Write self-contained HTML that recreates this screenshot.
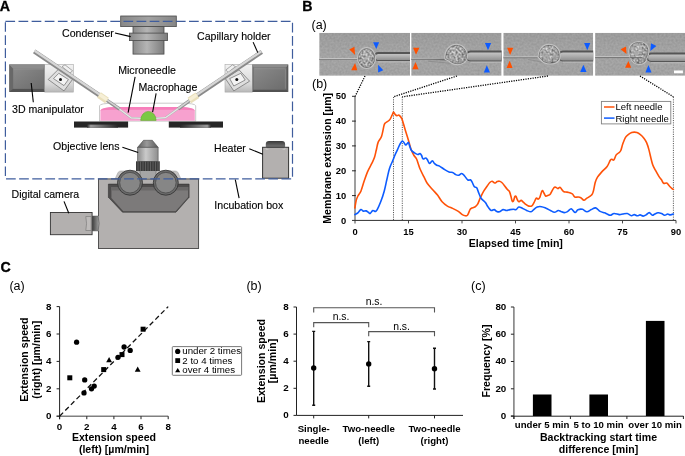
<!DOCTYPE html>
<html><head><meta charset="utf-8"><title>Figure</title>
<style>
html,body{margin:0;padding:0;background:#fff;}
svg{display:block}
text{font-family:"Liberation Sans",sans-serif;fill:#000}
.pl{font-size:14.200px;font-weight:bold;stroke:#000;stroke-width:0.3px}
.sub{font-size:12.500px}
.la{font-size:10.600px;stroke:#000;stroke-width:0.12px}
.tk{font-size:9.800px;font-weight:bold}
.tkb{font-size:9.400px;font-weight:bold}
.ax{font-size:10.600px;font-weight:bold}
.lg{font-size:9.500px}
.lg2{font-size:9.700px}
.ns{font-size:10.400px}
.ct{font-size:9.650px;font-weight:bold}
</style></head><body>
<svg width="685" height="456" viewBox="0 0 685 456">
<defs>
<linearGradient id="gH" x1="0" x2="1" y1="0" y2="0"><stop offset="0" stop-color="#8a8a8a"/><stop offset="0.45" stop-color="#b4b4b4"/><stop offset="1" stop-color="#7c7c7c"/></linearGradient>
<linearGradient id="gD" x1="0" x2="1" y1="0" y2="1"><stop offset="0" stop-color="#8a8a8a"/><stop offset="1" stop-color="#6c6c6c"/></linearGradient>
<linearGradient id="gS" x1="0" x2="1" y1="0" y2="0"><stop offset="0" stop-color="#262626"/><stop offset="0.12" stop-color="#9a9a9a"/><stop offset="1" stop-color="#262626"/></linearGradient>
<linearGradient id="gP" x1="0" x2="0" y1="0" y2="1"><stop offset="0" stop-color="#c4c4c4"/><stop offset="0.55" stop-color="#a8a8a8"/><stop offset="1" stop-color="#8e8e8e"/></linearGradient>
<linearGradient id="gM" x1="0" x2="0" y1="0" y2="1"><stop offset="0" stop-color="#9c9c9c"/><stop offset="0.5" stop-color="#a4a4a4"/><stop offset="1" stop-color="#a2a2a2"/></linearGradient>
<radialGradient id="gC" cx="0.38" cy="0.32" r="0.75"><stop offset="0" stop-color="#bebebe"/><stop offset="0.6" stop-color="#a8a8a8"/><stop offset="1" stop-color="#858585"/></radialGradient>
<filter id="fN" x="0" y="0" width="1" height="1" color-interpolation-filters="sRGB"><feTurbulence type="fractalNoise" baseFrequency="0.5" numOctaves="3" seed="7" result="n"/><feColorMatrix in="n" type="matrix" values="1.5 0 0 0 -0.12  1.5 0 0 0 -0.12  1.5 0 0 0 -0.12  0 0 0 0 1" result="m"/><feComposite in="m" in2="SourceGraphic" operator="in"/></filter>
<linearGradient id="gH2" x1="0" x2="1" y1="0" y2="0"><stop offset="0" stop-color="#888"/><stop offset="0.5" stop-color="#a2a2a2"/><stop offset="1" stop-color="#868686"/></linearGradient>
<linearGradient id="gO" x1="0" x2="1" y1="0" y2="0"><stop offset="0" stop-color="#8c8c8c"/><stop offset="0.4" stop-color="#cacaca"/><stop offset="1" stop-color="#8e8e8e"/></linearGradient>
<linearGradient id="gO2" x1="0" x2="1" y1="0" y2="0"><stop offset="0" stop-color="#5e5e5e"/><stop offset="0.45" stop-color="#9a9a9a"/><stop offset="1" stop-color="#5a5a5a"/></linearGradient>
<linearGradient id="gL" x1="0" x2="1" y1="0" y2="0"><stop offset="0" stop-color="#3c3c3c"/><stop offset="1" stop-color="#a0a0a0"/></linearGradient>
<linearGradient id="gCap" x1="0" x2="0" y1="0" y2="1"><stop offset="0" stop-color="#3a3a3a"/><stop offset="1" stop-color="#7a7a7a"/></linearGradient>
<linearGradient id="gLt" x1="0" x2="0" y1="0" y2="1"><stop offset="0" stop-color="#f2f2f2"/><stop offset="0.7" stop-color="#d8d8d8"/><stop offset="1" stop-color="#b8b8b8"/></linearGradient>
</defs>
<rect width="685" height="456" fill="#fff"/>

<g id="panelA">
<text x="-0.200" y="11" class="pl">A</text>
<!-- condenser -->
<rect x="120.700" y="16" width="55.600" height="10.600" fill="url(#gH2)" stroke="#4a4a4a" stroke-width="0.8"/>
<rect x="133" y="26.600" width="31" height="27.500" fill="url(#gH)" stroke="#4a4a4a" stroke-width="0.8"/>
<rect x="129.500" y="33.100" width="38" height="7.500" fill="url(#gH)" stroke="#4a4a4a" stroke-width="0.8"/>
<!-- turret behind eyepieces -->
<path d="M114.600 180 L118 172.500 Q119 171 121 171 H175 Q177 171 178 172.500 L181.400 180 Z" fill="#c4c2c1" stroke="#999" stroke-width="0.5"/>
<!-- microscope body -->
<rect x="98.500" y="178.900" width="100.100" height="69.600" fill="#b3b0af" stroke="#444" stroke-width="0.9"/>
<path d="M108.400 184.100 H189.100 V197.300 L176 212.200 H122.500 L108.400 197.300 Z" fill="#4f4d4d" stroke="#333" stroke-width="0.6"/>
<path d="M111.400 187 H188.200 V197 L175.600 211.300 H123.300 L111.400 198 Z" fill="#7c7a7a"/>
<path d="M111.400 187 H188.200 V190.500 H111.400 Z" fill="#6a6868"/>
<!-- objective -->
<rect x="140" y="170" width="16" height="9" fill="#a5a5a5" stroke="#555" stroke-width="0.5"/>
<path d="M137.700 147.300 L143.500 140.300 H152.300 L158.100 147.300 Z" fill="url(#gO2)" stroke="#4a4a4a" stroke-width="0.6"/>
<rect x="137.700" y="147.300" width="20.400" height="14" fill="url(#gO)" stroke="#4a4a4a" stroke-width="0.6"/>
<rect x="136" y="161.300" width="23.800" height="9.700" fill="#3a3a3a"/>
<path d="M138 161.500 V171 M140.500 161.500 V171 M143 161.500 V171 M145.500 161.500 V171 M148 161.500 V171 M150.500 161.500 V171 M153 161.500 V171 M155.500 161.500 V171 M158 161.500 V171" stroke="#777" stroke-width="0.6"/>
<!-- eyepieces -->
<circle cx="130" cy="182.700" r="12.500" fill="#6b6b6b" stroke="#2e2e2e" stroke-width="0.8"/>
<circle cx="130" cy="182.700" r="10.300" fill="#868686" stroke="#444" stroke-width="0.7"/>
<circle cx="165.800" cy="182.700" r="12.500" fill="#6b6b6b" stroke="#2e2e2e" stroke-width="0.8"/>
<circle cx="165.800" cy="182.700" r="10.300" fill="#868686" stroke="#444" stroke-width="0.7"/>
<!-- camera -->
<rect x="50.400" y="212.500" width="41.700" height="22.200" fill="#b3b0af" stroke="#333" stroke-width="0.9"/>
<rect x="92.100" y="216" width="7" height="14.900" fill="url(#gL)"/>
<path d="M92.100 216 H98 Q100.500 223.500 98 230.900 H92.100" fill="none" stroke="#555" stroke-width="0.5"/>
<path d="M85.800 216.500 H91.200 V230.500 H85.800 Q87.300 223.500 85.800 216.500 Z" fill="#bebbba" stroke="#666" stroke-width="0.5"/>
<!-- heater -->
<path d="M265.800 147.500 V144 Q265.800 141.100 269 141.100 H282 Q285.100 141.100 285.100 144 V147.500 Z" fill="url(#gCap)"/>
<rect x="262.600" y="147.300" width="26" height="30.900" fill="#b3b0af" stroke="#333" stroke-width="1"/>
<path d="M266 147.800 V149.300 H268.500 M285 147.800 V149.300 H282.500" fill="none" stroke="#ddd" stroke-width="0.5"/>
<!-- manipulators -->
<g id="manL">
<rect x="44.700" y="64.600" width="28.600" height="27.500" fill="url(#gLt)" stroke="#a8a8a8" stroke-width="0.6"/>
<rect x="9.100" y="64.400" width="35.400" height="27.500" fill="#686868"/>
<path d="M9.100 64.400 H44.500 L43.700 68.800 H13.200 Z" fill="#8d8d8d"/>
<path d="M9.100 91.900 H44.500 L43.700 88.800 H13.200 Z" fill="#525252"/>
<rect x="13.200" y="68.800" width="30.500" height="20" fill="url(#gD)"/>
<path d="M13.200 69 H43.700" stroke="#9c9c9c" stroke-width="0.5"/>
<polygon points="62,66.600 65,64.800 72.600,70.800 70,73" fill="#f0f0f0" stroke="#777" stroke-width="0.6"/>
<polygon points="58.800,68.900 72.500,79.500 64,90.900 48.200,79.500" fill="#dedede" stroke="#6a6a6a" stroke-width="0.7"/>
<polygon points="58.800,73.300 68.400,79.500 64,85.600 53.500,78.600" fill="#f3f3f3" stroke="#6a6a6a" stroke-width="0.7"/>
<circle cx="60.500" cy="79.500" r="1.500" fill="#111"/>
</g>
<g id="manR">
<rect x="225" y="64.600" width="27.400" height="27.500" fill="url(#gLt)" stroke="#a8a8a8" stroke-width="0.6"/>
<rect x="252.400" y="64.400" width="35.800" height="27.500" fill="#686868"/>
<path d="M252.400 64.400 H288.200 L286.400 67.600 H253.600 Z" fill="#8d8d8d"/>
<path d="M252.400 91.900 H288.200 L286.400 89.600 H253.600 Z" fill="#525252"/>
<path d="M288.200 64.400 V91.900 L286.400 89.600 V67.600 Z" fill="#5a5a5a"/>
<rect x="253.600" y="67.600" width="32.800" height="22" fill="url(#gD)"/>
<path d="M254.600 68.800 H285.400 V88.600" stroke="#989898" stroke-width="0.5" fill="none"/>
<polygon points="235.500,66.600 232.500,64.800 225.800,70 228.200,72.400" fill="#f0f0f0" stroke="#777" stroke-width="0.6"/>
<polygon points="239,69.800 249.600,81.200 233.800,90.900 225.300,78.500" fill="#dedede" stroke="#6a6a6a" stroke-width="0.7"/>
<polygon points="240.800,73.300 245.200,80 233.800,86 229.700,78.600" fill="#f3f3f3" stroke="#6a6a6a" stroke-width="0.7"/>
<circle cx="236.800" cy="79.500" r="1.500" fill="#111"/>
</g>
<!-- dish -->
<path d="M99.500 105.800 V121.100 H195.700 V105.800" fill="#fff" stroke="#bcbcbc" stroke-width="0.8"/>
<path d="M99.500 105.800 Q99.800 103.200 115 103.200 H180 Q195.400 103.200 195.700 105.800" fill="#fff" stroke="#bcbcbc" stroke-width="0.8"/>
<path d="M100.400 110.600 Q101.500 107.100 116 107.100 H179 Q193.700 107.100 194.800 110.600 V120.700 H100.400 Z" fill="#f7a1cf"/>
<path d="M100.400 110.600 Q101.500 107.100 116 107.100 H179 Q193.700 107.100 194.800 110.600 Q193 109.700 179 109.700 H116 Q102 109.700 100.400 110.600 Z" fill="#f77fbb"/>
<!-- stage -->
<rect x="74" y="121.500" width="54.100" height="6.100" fill="#262626"/>
<rect x="87" y="124.600" width="31" height="3" fill="url(#gS)"/>
<rect x="168.800" y="121.500" width="54.200" height="6.100" fill="#262626"/>
<rect x="180" y="124.600" width="31" height="3" fill="url(#gS)" transform="translate(391 0) scale(-1 1)"/>
<!-- needles -->
<g id="ndL">
<polyline points="118.700,108.600 131,117.800 141,118.300" fill="none" stroke="#b4b4b4" stroke-width="2.100" stroke-linejoin="round"/>
<polyline points="118.700,108.600 131,117.800 141,118.300" fill="none" stroke="#e6e6e6" stroke-width="1.200" stroke-linejoin="round"/>
<line x1="104" y1="98.300" x2="119.500" y2="109" stroke="#909090" stroke-width="3.400"/>
<line x1="104" y1="97.900" x2="119.500" y2="108.600" stroke="#d2d2d2" stroke-width="1.600"/>
<line x1="34.200" y1="51.400" x2="101" y2="96.400" stroke="#8a8a8a" stroke-width="4.3"/>
<line x1="34.600" y1="50.800" x2="101.400" y2="95.800" stroke="#d6d6d6" stroke-width="2.300"/>
<line x1="99" y1="95.100" x2="107" y2="100.500" stroke="#e9dfbb" stroke-width="6.600"/>
<line x1="99.600" y1="94.700" x2="107" y2="99.700" stroke="#f6efd6" stroke-width="3.400"/>
</g>
<g id="ndR">
<polyline points="178.200,108.600 165.400,117.700 155.500,118.300" fill="none" stroke="#b4b4b4" stroke-width="2.100" stroke-linejoin="round"/>
<polyline points="178.200,108.600 165.400,117.700 155.500,118.300" fill="none" stroke="#e6e6e6" stroke-width="1.200" stroke-linejoin="round"/>
<line x1="192.400" y1="98.700" x2="178.200" y2="108.900" stroke="#909090" stroke-width="3.400"/>
<line x1="192.400" y1="98.300" x2="178.200" y2="108.500" stroke="#d2d2d2" stroke-width="1.600"/>
<line x1="261.800" y1="51.900" x2="195.400" y2="96.600" stroke="#8a8a8a" stroke-width="4.3"/>
<line x1="261.400" y1="51.300" x2="195" y2="96" stroke="#d6d6d6" stroke-width="2.300"/>
<line x1="197.400" y1="95.200" x2="189.400" y2="100.600" stroke="#e9dfbb" stroke-width="6.600"/>
<line x1="196.800" y1="94.800" x2="189.400" y2="99.800" stroke="#f6efd6" stroke-width="3.400"/>
</g>
<!-- macrophage -->
<path d="M140.700 120.400 A7.700 9 0 0 1 156.100 120.400 Z" fill="#7ac943" stroke="#5fae2e" stroke-width="0.6"/>
<!-- dashed box -->
<path d="M5.400 21.400 H292.500 V178.900 H5.400 Z" fill="none" stroke="#3f5d9d" stroke-width="1.200" stroke-dasharray="9.700 3.416"/>
<!-- leaders -->
<g stroke="#000" stroke-width="1.100" fill="none">
<line x1="115" y1="33" x2="130.700" y2="36.600"/>
<line x1="253.100" y1="42.100" x2="257.800" y2="52.600"/>
<line x1="31.200" y1="83" x2="33.300" y2="102.300"/>
<line x1="135.100" y1="76.800" x2="128.100" y2="112.700"/>
<line x1="156.100" y1="93.400" x2="152.600" y2="112.200"/>
<line x1="122.400" y1="147.200" x2="138.200" y2="152.500"/>
<line x1="249.300" y1="148.700" x2="262.800" y2="154.300"/>
<line x1="64" y1="201.400" x2="68.800" y2="213.300"/>
<line x1="235.300" y1="179.700" x2="239.100" y2="198.200"/>
</g>
<g class="la">
<text x="62" y="36.500">Condenser</text>
<text x="197" y="39.500">Capillary holder</text>
<text x="118.200" y="73.500">Microneedle</text>
<text x="138.500" y="90.900">Macrophage</text>
<text x="12" y="112.800">3D manipulator</text>
<text x="53" y="150.200">Objective lens</text>
<text x="214" y="151.700">Heater</text>
<text x="11.500" y="198.400">Digital camera</text>
<text x="214.300" y="208.700">Incubation box</text>
</g>
</g>

<g id="panelB">
<text x="302.300" y="10.900" class="pl">B</text>
<text x="311.500" y="28.600" class="sub">(a)</text>
<text x="312" y="88" class="sub">(b)</text>
<clipPath id="cp0"><rect x="319.2" y="32.800" width="90.8" height="43"/></clipPath>
<g clip-path="url(#cp0)">
<rect x="319.2" y="32.800" width="90.8" height="43" fill="url(#gM)"/>
<rect x="319.2" y="32.800" width="90.8" height="43" fill="#888" filter="url(#fN)" opacity="0.07"/>
<path d="M319 58.500 H358" stroke="#c6c6c6" stroke-width="0.9"/><path d="M319 59.500 H358" stroke="#808080" stroke-width="0.9"/>
<path d="M411 51.9 H378.2 A4.6 4.6 0 0 0 378.2 61.099999999999994 H411 Z" fill="#555"/><path d="M411 53.9 H378.5 A2.6999999999999993 2.6999999999999993 0 0 0 378.5 60.099999999999994 H411 Z" fill="url(#gP)"/><path d="M378.2 61.9 H411" stroke="#bdbdbd" stroke-width="0.9"/>
<path d="M358.6 58.1 A8.0 9.4 0 0 1 374.6 58.1 A8.0 9.4 0 0 1 358.6 58.1 Z" fill="none" stroke="#c2c2c2" stroke-width="3.2" stroke-linejoin="round"/><path d="M358.6 58.1 A8.0 9.4 0 0 1 374.6 58.1 A8.0 9.4 0 0 1 358.6 58.1 Z" fill="url(#gC)" stroke="#727272" stroke-width="1" stroke-linejoin="round"/><path d="M358.6 58.1 A8.0 9.4 0 0 1 374.6 58.1 A8.0 9.4 0 0 1 358.6 58.1 Z" fill="#888" filter="url(#fN)" opacity="0.5"/>
<polygon points="349.3,49.6 354.4,46.7 355.1,55.0" fill="#ff5000"/>
<polygon points="355.1,63.0 351.2,70.3 357.3,70.3" fill="#ff5000"/>
<polygon points="373.1,42.2 379.2,42.2 376.3,48.9" fill="#0d5bff"/>
<polygon points="378.1,64.8 378.1,72.5 383.3,70.3" fill="#0d5bff"/>
</g>
<clipPath id="cp1"><rect x="411.2" y="32.800" width="90.4" height="43"/></clipPath>
<g clip-path="url(#cp1)">
<rect x="411.2" y="32.800" width="90.4" height="43" fill="url(#gM)"/>
<rect x="411.2" y="32.800" width="90.4" height="43" fill="#888" filter="url(#fN)" opacity="0.07"/>
<path d="M411 58.400 H452" stroke="#c6c6c6" stroke-width="0.9"/><path d="M411 59.400 H430 L452 60.500 V58.800 Z" fill="#666" stroke="#777" stroke-width="0.6"/>
<path d="M428 61.200 Q440 62.200 452 63.500" stroke="#8a8a8a" stroke-width="0.8" fill="none"/>
<path d="M503 50.6 H470.5 A5.4 5.4 0 0 0 470.5 61.4 H503 Z" fill="#555"/><path d="M503 52.6 H470.8 A3.5 3.5 0 0 0 470.8 60.4 H503 Z" fill="url(#gP)"/><path d="M470.5 62.2 H503" stroke="#bdbdbd" stroke-width="0.9"/>
<path d="M445.9 58.6 C445.6 52 449 45.4 456.2 45.4 C462.5 45.4 466.4 50 466.4 56.5 C466.4 60.5 463 63.6 457.6 63.6 C454 63.6 451 62 449.5 60.2 Z" fill="none" stroke="#c2c2c2" stroke-width="3.2" stroke-linejoin="round"/><path d="M445.9 58.6 C445.6 52 449 45.4 456.2 45.4 C462.5 45.4 466.4 50 466.4 56.5 C466.4 60.5 463 63.6 457.6 63.6 C454 63.6 451 62 449.5 60.2 Z" fill="url(#gC)" stroke="#727272" stroke-width="1" stroke-linejoin="round"/><path d="M445.9 58.6 C445.6 52 449 45.4 456.2 45.4 C462.5 45.4 466.4 50 466.4 56.5 C466.4 60.5 463 63.6 457.6 63.6 C454 63.6 451 62 449.5 60.2 Z" fill="#888" filter="url(#fN)" opacity="0.5"/>
<polygon points="413.1,47.7 419.4,47.7 416.0,54.7" fill="#ff5000"/>
<polygon points="415.6,61.9 412.4,69.3 418.5,69.3" fill="#ff5000"/>
<polygon points="484.9,43.0 491.2,43.0 488.0,50.2" fill="#0d5bff"/>
<polygon points="486.8,65.2 483.9,72.5 490.0,72.5" fill="#0d5bff"/>
</g>
<clipPath id="cp2"><rect x="503.3" y="32.800" width="89.9" height="43"/></clipPath>
<g clip-path="url(#cp2)">
<rect x="503.3" y="32.800" width="89.9" height="43" fill="url(#gM)"/>
<rect x="503.3" y="32.800" width="89.9" height="43" fill="#888" filter="url(#fN)" opacity="0.07"/>
<path d="M503 56.800 H541" stroke="#c6c6c6" stroke-width="0.9"/><path d="M503 57.800 H541" stroke="#7a7a7a" stroke-width="0.9"/>
<path d="M528 59.500 Q538 61 545 63" stroke="#8a8a8a" stroke-width="0.8" fill="none"/>
<path d="M594 50.6 H562.9 A5.4 5.4 0 0 0 562.9 61.4 H594 Z" fill="#555"/><path d="M594 52.6 H563.1999999999999 A3.5 3.5 0 0 0 563.1999999999999 60.4 H594 Z" fill="url(#gP)"/><path d="M562.9 62.2 H594" stroke="#bdbdbd" stroke-width="0.9"/>
<path d="M539.1 57 C539.2 51 542.5 45.400 549 45.400 C555.5 45.400 559.200 50 559.100 56.5 C559.100 60.400 556 63 550 63 C546 63 543 61.400 541.5 59.5 Z" fill="none" stroke="#c2c2c2" stroke-width="3.2" stroke-linejoin="round"/><path d="M539.1 57 C539.2 51 542.5 45.400 549 45.400 C555.5 45.400 559.200 50 559.100 56.5 C559.100 60.400 556 63 550 63 C546 63 543 61.400 541.5 59.5 Z" fill="url(#gC)" stroke="#727272" stroke-width="1" stroke-linejoin="round"/><path d="M539.1 57 C539.2 51 542.5 45.400 549 45.400 C555.5 45.400 559.200 50 559.100 56.5 C559.100 60.400 556 63 550 63 C546 63 543 61.400 541.5 59.5 Z" fill="#888" filter="url(#fN)" opacity="0.5"/>
<polygon points="507.1,47.7 513.3,47.7 510.1,55.0" fill="#ff5000"/>
<polygon points="509.7,60.8 506.5,67.9 512.6,67.9" fill="#ff5000"/>
<polygon points="584.1,43.0 590.3,43.0 587.3,50.2" fill="#0d5bff"/>
<polygon points="583.4,64.8 580.2,72.1 586.6,72.1" fill="#0d5bff"/>
</g>
<clipPath id="cp3"><rect x="595.1" y="32.800" width="89.9" height="43"/></clipPath>
<g clip-path="url(#cp3)">
<rect x="595.1" y="32.800" width="89.9" height="43" fill="url(#gM)"/>
<rect x="595.1" y="32.800" width="89.9" height="43" fill="#888" filter="url(#fN)" opacity="0.07"/>
<path d="M595 56.600 H640" stroke="#c6c6c6" stroke-width="0.9"/><path d="M595 57.600 H640" stroke="#707070" stroke-width="0.9"/>
<path d="M686 52.4 H651.1 A4.8000000000000025 4.8000000000000025 0 0 0 651.1 62.0 H686 Z" fill="#555"/><path d="M686 54.4 H651.4 A2.900000000000002 2.900000000000002 0 0 0 651.4 61.0 H686 Z" fill="url(#gP)"/><path d="M651.1 62.800000000000004 H686" stroke="#bdbdbd" stroke-width="0.9"/>
<path d="M629.9 51 C629.9 45.5 633.5 42.6 638.8 42.6 C644.2 42.6 647.8 45.8 647.8 51 C647.8 54.5 646.8 56.8 645.8 58.2 C646 61 643.5 63.4 639.5 63.4 C635.5 63.4 632.3 61.5 632 58.2 C630.6 56.6 629.9 54.2 629.9 51 Z" fill="none" stroke="#c2c2c2" stroke-width="3.2" stroke-linejoin="round"/><path d="M629.9 51 C629.9 45.5 633.5 42.6 638.8 42.6 C644.2 42.6 647.8 45.8 647.8 51 C647.8 54.5 646.8 56.8 645.8 58.2 C646 61 643.5 63.4 639.5 63.4 C635.5 63.4 632.3 61.5 632 58.2 C630.6 56.6 629.9 54.2 629.9 51 Z" fill="url(#gC)" stroke="#727272" stroke-width="1" stroke-linejoin="round"/><path d="M629.9 51 C629.9 45.5 633.5 42.6 638.8 42.6 C644.2 42.6 647.8 45.8 647.8 51 C647.8 54.5 646.8 56.8 645.8 58.2 C646 61 643.5 63.4 639.5 63.4 C635.5 63.4 632.3 61.5 632 58.2 C630.6 56.6 629.9 54.2 629.9 51 Z" fill="#888" filter="url(#fN)" opacity="0.5"/>
<path d="M630 57.600 H642" stroke="#6a6a6a" stroke-width="0.9"/>
<polygon points="620.6,49.2 626.0,46.4 626.5,53.9" fill="#ff5000"/>
<polygon points="628.4,60.9 625.1,67.7 631.2,67.7" fill="#ff5000"/>
<polygon points="651.0,43.3 656.4,46.1 650.3,50.9" fill="#0d5bff"/>
<polygon points="648.5,65.1 645.4,72.6 651.5,72.6" fill="#0d5bff"/>
<rect x="674" y="70.500" width="8.900" height="2.800" fill="#fff"/>
</g>
</g>
<g id="chartB">
<path d="M355.0 96.3 V223.4" fill="none" stroke="#7f7f7f" stroke-width="1.5"/>
<path d="M352.0 220.4 H676.0" fill="none" stroke="#2e2e2e" stroke-width="1"/>
<text x="346.2" y="223.5" class="tkb" text-anchor="end">0</text>
<line x1="352.0" x2="355.8" y1="195.6" y2="195.6" stroke="#111" stroke-width="0.9"/>
<text x="346.2" y="198.7" class="tkb" text-anchor="end">10</text>
<line x1="352.0" x2="355.8" y1="170.8" y2="170.8" stroke="#111" stroke-width="0.9"/>
<text x="346.2" y="173.9" class="tkb" text-anchor="end">20</text>
<line x1="352.0" x2="355.8" y1="145.9" y2="145.9" stroke="#111" stroke-width="0.9"/>
<text x="346.2" y="149.0" class="tkb" text-anchor="end">30</text>
<line x1="352.0" x2="355.8" y1="121.1" y2="121.1" stroke="#111" stroke-width="0.9"/>
<text x="346.2" y="124.2" class="tkb" text-anchor="end">40</text>
<line x1="352.0" x2="355.8" y1="96.3" y2="96.3" stroke="#111" stroke-width="0.9"/>
<text x="346.2" y="99.4" class="tkb" text-anchor="end">50</text>
<line y1="220.4" y2="223.4" x1="408.5" x2="408.5" stroke="#333" stroke-width="0.9"/>
<line y1="220.4" y2="223.4" x1="462.0" x2="462.0" stroke="#333" stroke-width="0.9"/>
<line y1="220.4" y2="223.4" x1="515.5" x2="515.5" stroke="#333" stroke-width="0.9"/>
<line y1="220.4" y2="223.4" x1="569.0" x2="569.0" stroke="#333" stroke-width="0.9"/>
<line y1="220.4" y2="223.4" x1="622.5" x2="622.5" stroke="#333" stroke-width="0.9"/>
<line y1="220.4" y2="223.4" x1="676.0" x2="676.0" stroke="#333" stroke-width="0.9"/>
<text x="355.0" y="234.7" class="tkb" text-anchor="middle">0</text>
<text x="408.5" y="234.7" class="tkb" text-anchor="middle">15</text>
<text x="462.0" y="234.7" class="tkb" text-anchor="middle">30</text>
<text x="515.5" y="234.7" class="tkb" text-anchor="middle">45</text>
<text x="569.0" y="234.7" class="tkb" text-anchor="middle">60</text>
<text x="622.5" y="234.7" class="tkb" text-anchor="middle">75</text>
<text x="676.0" y="234.7" class="tkb" text-anchor="middle">90</text>
<text x="515.8" y="247.3" class="ax" text-anchor="middle">Elapsed time [min]</text>
<text transform="translate(331 158.3) rotate(-90)" class="ax" text-anchor="middle">Membrane extension [µm]</text>
<path d="M365 76 L355.3 96" stroke="#000" stroke-width="1.3" stroke-dasharray="1.2 1.2" fill="none"/>
<path d="M457 76 L393.5 96.8" stroke="#000" stroke-width="1.3" stroke-dasharray="1.2 1.2" fill="none"/><path d="M393.5 97 V220.4" stroke="#444" stroke-width="0.9" stroke-dasharray="1.1 1.2" fill="none"/>
<path d="M548 76 L402.3 96.8" stroke="#000" stroke-width="1.3" stroke-dasharray="1.2 1.2" fill="none"/><path d="M402.3 97 V220.4" stroke="#444" stroke-width="0.9" stroke-dasharray="1.1 1.2" fill="none"/>
<path d="M640 76 L673.4 96.8" stroke="#000" stroke-width="1.3" stroke-dasharray="1.2 1.2" fill="none"/><path d="M673.4 97 V220.4" stroke="#444" stroke-width="0.9" stroke-dasharray="1.1 1.2" fill="none"/>
<path d="M354.9 207.9C355.1 206.7 355.6 202.9 356.1 200.9C356.6 198.9 357.1 197.6 357.9 196.0C358.7 194.4 359.9 193.6 360.9 191.2C361.9 188.8 362.9 184.8 364.0 181.6C365.1 178.4 366.2 175.0 367.5 171.9C368.8 168.8 370.7 165.7 371.9 163.2C373.1 160.7 373.9 159.2 374.6 157.0C375.3 154.8 375.7 152.4 376.3 150.0C376.9 147.6 377.2 144.7 378.1 142.4C379.0 140.1 380.6 139.1 381.6 136.2C382.6 133.3 383.5 127.1 384.2 124.8C384.9 122.5 385.1 123.3 386.0 122.5C386.9 121.7 388.5 121.3 389.5 120.1C390.5 118.9 391.4 116.5 392.1 115.2C392.8 113.9 393.0 112.1 393.5 112.0C394.0 111.9 394.7 114.0 395.3 114.6C395.9 115.2 396.4 115.6 397.0 115.7C397.6 115.8 398.3 114.7 399.1 115.2C399.9 115.7 401.1 117.2 401.8 118.7C402.5 120.2 402.8 121.6 403.5 123.9C404.2 126.2 405.2 129.8 406.1 132.7C407.0 135.6 407.9 138.6 408.8 141.5C409.7 144.4 410.5 148.0 411.4 150.3C412.3 152.6 413.1 154.0 414.0 155.5C414.9 157.0 415.7 157.0 416.7 159.3C417.7 161.6 419.0 166.5 420.2 169.3C421.4 172.1 422.5 174.0 423.7 176.3C424.9 178.6 425.7 181.1 427.2 183.3C428.7 185.5 430.8 187.5 432.5 189.5C434.2 191.5 436.1 193.2 437.7 195.3C439.3 197.4 440.5 200.0 442.1 201.8C443.7 203.6 445.6 205.0 447.4 206.1C449.1 207.2 450.9 207.6 452.6 208.4C454.4 209.2 456.3 210.1 457.9 211.1C459.5 212.1 461.1 213.9 462.3 214.7C463.5 215.5 464.4 215.7 465.3 215.8C466.2 215.9 466.9 216.1 467.6 215.1C468.4 214.1 469.2 211.2 469.8 210.0C470.4 208.8 470.5 208.7 471.4 208.2C472.2 207.7 473.9 207.6 474.9 207.0C475.9 206.4 476.6 205.9 477.5 204.4C478.4 202.9 479.2 200.4 480.2 198.2C481.2 196.0 482.5 193.2 483.7 191.2C484.9 189.2 486.2 187.4 487.2 186.0C488.2 184.6 489.0 183.3 489.8 182.5C490.6 181.7 491.3 181.1 492.1 181.2C492.9 181.3 493.9 182.9 494.7 183.0C495.5 183.1 496.4 181.9 497.2 181.6C498.0 181.3 498.7 181.0 499.5 181.2C500.3 181.3 500.9 181.7 501.8 182.5C502.7 183.3 503.8 184.8 504.7 186.0C505.6 187.2 506.6 188.5 507.4 189.5C508.2 190.5 509.0 190.5 509.6 191.8C510.2 193.1 510.8 195.8 511.2 197.4C511.6 199.0 511.9 200.6 512.3 201.2C512.7 201.8 513.1 201.7 513.5 200.9C513.9 200.1 514.5 197.2 514.9 196.5C515.3 195.8 515.7 195.9 516.1 196.5C516.5 197.1 517.0 199.1 517.5 200.0C518.0 200.9 518.2 201.7 518.8 201.8C519.4 201.9 520.4 200.4 521.1 200.4C521.8 200.4 522.4 201.4 523.2 202.1C524.0 202.8 524.9 203.7 525.8 204.4C526.7 205.1 527.8 205.9 528.8 206.1C529.8 206.3 531.0 206.4 531.9 205.8C532.8 205.2 533.3 203.9 534.0 202.6C534.7 201.3 535.6 198.8 536.3 198.2C537.0 197.6 537.5 199.2 538.1 199.1C538.7 199.0 539.1 198.8 539.8 197.4C540.5 196.0 541.4 191.4 542.1 190.7C542.8 190.0 543.3 192.1 543.9 193.0C544.5 193.9 545.0 195.6 545.6 196.0C546.2 196.4 546.9 195.9 547.7 195.6C548.5 195.2 549.4 195.2 550.4 193.9C551.4 192.6 552.9 188.8 553.9 187.7C554.9 186.6 555.4 187.2 556.1 187.4C556.8 187.6 557.2 188.6 557.9 188.6C558.5 188.6 559.4 187.0 560.0 187.2C560.6 187.3 561.1 188.7 561.8 189.5C562.4 190.3 563.0 191.4 563.9 191.8C564.8 192.2 565.9 191.9 567.0 192.1C568.1 192.3 569.6 192.7 570.5 193.0C571.4 193.3 571.8 193.3 572.5 194.0C573.2 194.7 573.8 196.5 574.8 197.0C575.8 197.5 577.2 196.9 578.2 197.0C579.2 197.1 579.8 197.2 580.8 197.7C581.8 198.2 582.9 200.1 583.9 200.2C584.9 200.3 585.7 199.0 586.9 198.2C588.1 197.4 590.3 196.3 591.3 195.3C592.3 194.3 592.5 194.2 593.1 192.1C593.8 190.0 594.5 185.0 595.2 182.5C595.9 180.0 596.4 179.0 597.5 177.2C598.6 175.4 600.2 173.7 601.8 171.9C603.4 170.1 605.7 168.4 607.1 166.5C608.5 164.6 609.5 161.4 610.3 160.2C611.1 159.0 611.4 159.2 612.0 159.2C612.6 159.2 613.1 160.7 613.8 160.0C614.5 159.3 615.4 156.1 616.2 154.9C617.0 153.7 617.7 153.7 618.5 153.0C619.3 152.3 620.1 152.1 620.8 150.5C621.5 148.9 622.1 145.7 622.9 143.5C623.7 141.3 624.6 138.9 625.5 137.4C626.4 135.9 627.2 135.5 628.2 134.7C629.2 133.9 630.7 133.0 631.7 132.6C632.7 132.2 633.4 132.1 634.3 132.1C635.2 132.1 635.9 132.2 636.9 132.6C637.9 133.0 639.2 133.8 640.4 134.7C641.6 135.6 642.9 136.9 643.9 138.2C644.9 139.5 645.8 140.7 646.6 142.6C647.4 144.5 648.2 146.9 648.9 149.6C649.6 152.2 650.4 156.0 651.0 158.5C651.6 161.0 652.0 162.8 652.7 164.7C653.4 166.6 654.4 168.3 655.4 170.2C656.4 172.1 657.9 174.7 658.9 176.3C659.9 177.9 660.7 178.6 661.5 179.8C662.3 181.0 662.7 182.8 663.6 183.3C664.5 183.8 665.8 182.6 666.8 183.0C667.8 183.4 668.5 185.1 669.4 186.0C670.3 186.9 671.3 188.0 672.0 188.6C672.7 189.2 673.2 189.3 673.4 189.4" fill="none" stroke="#ff5208" stroke-width="1.6" stroke-linejoin="round" stroke-linecap="round"/>
<path d="M354.9 214.6C355.4 214.3 356.9 213.6 357.9 212.8C358.9 212.0 360.0 209.9 360.9 209.6C361.8 209.3 362.3 210.9 363.2 211.1C364.1 211.3 365.2 210.7 366.1 210.9C367.0 211.1 367.7 211.9 368.4 212.3C369.1 212.7 369.5 213.8 370.2 213.5C370.9 213.2 371.9 210.8 372.8 210.5C373.7 210.2 374.7 211.6 375.4 211.4C376.1 211.2 376.3 211.2 377.2 209.6C378.1 208.0 379.5 204.9 380.7 201.8C381.9 198.7 383.2 194.9 384.2 191.2C385.2 187.5 385.9 183.6 386.8 179.8C387.7 176.0 388.5 171.5 389.5 168.4C390.5 165.3 391.7 163.2 392.6 161.0C393.5 158.8 394.2 156.9 395.0 155.0C395.8 153.1 396.7 151.4 397.5 149.6C398.3 147.8 399.2 145.5 400.0 144.1C400.8 142.7 401.6 141.2 402.3 141.0C403.0 140.8 403.8 142.5 404.4 143.2C405.0 143.9 405.1 145.1 405.8 145.0C406.5 144.9 407.8 142.2 408.4 142.4C409.0 142.6 409.1 144.6 409.6 145.9C410.1 147.2 410.6 149.2 411.4 150.3C412.2 151.5 413.4 152.1 414.5 152.8C415.6 153.5 416.9 154.4 417.8 154.5C418.7 154.6 419.4 153.4 420.0 153.6C420.6 153.8 421.1 154.6 421.6 155.5C422.1 156.4 422.3 158.5 423.0 158.9C423.7 159.3 425.1 157.8 425.8 158.0C426.5 158.2 426.8 158.9 427.4 159.8C428.0 160.7 428.7 163.3 429.5 163.5C430.3 163.7 431.4 160.9 432.3 160.9C433.2 160.9 433.9 163.0 434.6 163.7C435.4 164.4 436.0 164.8 436.8 165.2C437.6 165.6 438.2 165.4 439.5 166.1C440.8 166.8 443.1 168.6 444.7 169.6C446.3 170.6 447.8 171.5 449.1 172.0C450.4 172.5 451.5 172.0 452.6 172.4C453.7 172.8 454.7 174.1 455.7 174.6C456.7 175.1 457.8 175.4 458.8 175.2C459.8 175.0 460.7 173.4 461.7 173.5C462.7 173.6 463.6 174.9 464.6 176.0C465.6 177.1 466.9 179.4 467.9 180.0C468.9 180.6 469.8 179.4 470.5 179.8C471.2 180.2 471.7 181.3 472.3 182.5C472.9 183.7 473.7 185.9 474.4 186.8C475.1 187.7 476.0 186.8 476.7 187.7C477.4 188.6 477.7 190.3 478.4 192.1C479.1 193.8 479.9 196.4 481.1 198.2C482.3 199.9 484.2 201.1 485.4 202.6C486.6 204.1 487.1 205.7 488.1 207.0C489.1 208.3 490.2 210.1 491.2 210.5C492.2 210.9 493.3 209.4 494.2 209.6C495.1 209.8 495.9 211.0 496.8 211.4C497.7 211.8 498.5 212.1 499.5 211.8C500.5 211.5 501.8 209.8 503.0 209.6C504.2 209.4 505.3 210.5 506.5 210.5C507.7 210.5 508.8 209.8 510.0 209.6C511.2 209.4 512.5 209.3 513.5 209.3C514.5 209.3 515.2 210.0 516.1 209.6C517.0 209.2 517.8 207.2 518.8 207.0C519.8 206.8 521.0 207.6 522.3 208.2C523.6 208.8 525.2 209.9 526.7 210.5C528.2 211.1 529.9 212.0 531.1 211.8C532.3 211.7 532.7 210.4 533.7 209.6C534.7 208.8 535.9 207.5 537.2 207.0C538.5 206.5 540.1 206.5 541.6 206.7C543.1 206.9 544.5 207.6 546.0 208.2C547.5 208.8 549.0 209.8 550.4 210.5C551.8 211.2 553.1 212.3 554.4 212.3C555.7 212.3 557.1 210.7 558.2 210.5C559.3 210.3 559.9 211.1 560.9 211.4C561.9 211.8 563.3 212.6 564.4 212.6C565.5 212.6 566.4 212.2 567.5 211.6C568.6 211.0 570.0 208.7 571.3 208.8C572.5 209.0 573.9 212.3 575.0 212.5C576.1 212.7 576.8 210.2 578.0 209.7C579.2 209.2 581.0 209.0 582.5 209.3C584.0 209.7 585.4 211.8 586.9 211.8C588.4 211.9 589.8 210.2 591.3 209.6C592.8 208.9 594.2 207.6 595.7 207.9C597.2 208.2 598.6 210.6 600.1 211.4C601.6 212.2 603.3 212.4 604.5 212.8C605.7 213.2 606.1 213.6 607.1 214.0C608.1 214.4 609.1 215.4 610.3 215.3C611.5 215.2 612.6 213.6 614.1 213.5C615.6 213.4 617.9 214.5 619.4 214.6C620.9 214.7 621.6 214.2 622.9 214.0C624.2 213.8 625.9 213.2 627.3 213.5C628.7 213.8 630.1 215.6 631.3 215.8C632.5 216.0 633.3 214.6 634.3 214.6C635.3 214.6 636.3 215.8 637.3 215.8C638.3 215.9 639.1 214.9 640.1 214.9C641.1 214.9 642.1 216.1 643.1 216.1C644.1 216.1 645.1 215.5 646.1 214.9C647.1 214.3 648.2 212.5 649.2 212.6C650.2 212.7 651.5 215.1 652.4 215.3C653.3 215.5 653.9 214.4 654.8 214.0C655.7 213.6 656.9 212.9 658.0 212.8C659.1 212.7 660.4 213.1 661.5 213.5C662.6 213.9 663.6 215.2 664.6 215.3C665.6 215.4 666.7 214.1 667.6 214.0C668.5 213.9 669.3 214.9 670.3 214.9C671.3 214.9 672.9 214.2 673.4 214.0" fill="none" stroke="#0d5cff" stroke-width="1.6" stroke-linejoin="round" stroke-linecap="round"/>
<rect x="601.400" y="101.400" width="69.400" height="22.500" fill="#fff" stroke="#808080" stroke-width="0.9"/>
<line x1="604" x2="614.500" y1="107" y2="107" stroke="#ff5208" stroke-width="1.5"/>
<line x1="604" x2="614.500" y1="118.100" y2="118.100" stroke="#0d5cff" stroke-width="1.5"/>
<text x="615.500" y="109.700" class="lg">Left needle</text>
<text x="615.500" y="121.600" class="lg">Right needle</text>
</g>
<g id="panelC">
<text x="0.400" y="272" class="pl">C</text>
<text x="9.400" y="290.100" class="sub">(a)</text>
<text x="246.400" y="290.300" class="sub">(b)</text>
<text x="471" y="290.400" class="sub">(c)</text>
<path d="M56.6 416.2 H168.2" fill="none" stroke="#808080" stroke-width="1.5"/>
<path d="M59.6 306.6 V419.2" fill="none" stroke="#222" stroke-width="1"/>
<line x1="56.6" x2="59.6" y1="416.2" y2="416.2" stroke="#222"/>
<text x="51.400000000000006" y="419.1" class="tk" text-anchor="end">0</text>
<line y1="416.2" y2="419.2" x1="59.6" x2="59.6" stroke="#222"/>
<text x="59.6" y="430.2" class="tk" text-anchor="middle">0</text>
<line x1="56.6" x2="59.6" y1="388.8" y2="388.8" stroke="#222"/>
<text x="51.400000000000006" y="391.7" class="tk" text-anchor="end">2</text>
<line y1="416.2" y2="419.2" x1="86.8" x2="86.8" stroke="#222"/>
<text x="86.8" y="430.2" class="tk" text-anchor="middle">2</text>
<line x1="56.6" x2="59.6" y1="361.4" y2="361.4" stroke="#222"/>
<text x="51.400000000000006" y="364.3" class="tk" text-anchor="end">4</text>
<line y1="416.2" y2="419.2" x1="113.9" x2="113.9" stroke="#222"/>
<text x="113.9" y="430.2" class="tk" text-anchor="middle">4</text>
<line x1="56.6" x2="59.6" y1="334.0" y2="334.0" stroke="#222"/>
<text x="51.400000000000006" y="336.9" class="tk" text-anchor="end">6</text>
<line y1="416.2" y2="419.2" x1="141.0" x2="141.0" stroke="#222"/>
<text x="141.0" y="430.2" class="tk" text-anchor="middle">6</text>
<line x1="56.6" x2="59.6" y1="306.6" y2="306.6" stroke="#222"/>
<text x="51.400000000000006" y="309.5" class="tk" text-anchor="end">8</text>
<line y1="416.2" y2="419.2" x1="168.2" x2="168.2" stroke="#222"/>
<text x="168.2" y="430.2" class="tk" text-anchor="middle">8</text>
<line x1="59.6" y1="416.2" x2="168.2" y2="306.6" stroke="#111" stroke-width="1.3" stroke-dasharray="5 3"/>
<circle cx="76.6" cy="342.2" r="2.65" fill="#000"/>
<circle cx="84.7" cy="379.9" r="2.65" fill="#000"/>
<circle cx="84.0" cy="392.9" r="2.65" fill="#000"/>
<circle cx="91.5" cy="388.8" r="2.65" fill="#000"/>
<circle cx="94.2" cy="386.1" r="2.65" fill="#000"/>
<circle cx="118.0" cy="357.3" r="2.65" fill="#000"/>
<circle cx="124.1" cy="347.0" r="2.65" fill="#000"/>
<circle cx="130.2" cy="350.4" r="2.65" fill="#000"/>
<rect x="67.3" y="375.3" width="5" height="5" fill="#000"/>
<rect x="101.2" y="367.1" width="5" height="5" fill="#000"/>
<rect x="119.5" y="352.1" width="5" height="5" fill="#000"/>
<rect x="140.6" y="326.7" width="5" height="5" fill="#000"/>
<path d="M109.1 357.0 L112.0 362.2 H106.2 Z" fill="#000"/>
<path d="M137.7 366.6 L140.6 371.8 H134.8 Z" fill="#000"/>
<text transform="translate(28.4 359.7) rotate(-90)" class="ax" text-anchor="middle">Extension speed</text>
<text transform="translate(40 359.7) rotate(-90)" class="ax" text-anchor="middle">(right) [µm/min]</text>
<text x="114" y="441" class="ax" text-anchor="middle">Extension speed</text>
<text x="114" y="453" class="ax" text-anchor="middle">(left) [µm/min]</text>
<rect x="172.300" y="346.600" width="69.300" height="28.700" rx="0.800" fill="#fff" stroke="#555" stroke-width="0.8"/>
<circle cx="177.700" cy="351.400" r="2.6" fill="#000"/><rect x="175.300" y="358.200" width="4.800" height="4.800" fill="#000"/><path d="M177.700 368 L180.300 372.200 H175.100 Z" fill="#000"/>
<text x="182.300" y="354" class="lg2">under 2 times</text><text x="182.300" y="363.600" class="lg2">2 to 4 times</text><text x="182.300" y="373.100" class="lg2">over 4 times</text>
<path d="M296.5 307.0 V415.4 H463.0" fill="none" stroke="#222" stroke-width="1"/>
<line x1="293.5" x2="296.5" y1="415.4" y2="415.4" stroke="#222"/>
<text x="288.8" y="418.3" class="tk" text-anchor="end">0</text>
<line x1="293.5" x2="296.5" y1="388.3" y2="388.3" stroke="#222"/>
<text x="288.8" y="391.2" class="tk" text-anchor="end">2</text>
<line x1="293.5" x2="296.5" y1="361.2" y2="361.2" stroke="#222"/>
<text x="288.8" y="364.1" class="tk" text-anchor="end">4</text>
<line x1="293.5" x2="296.5" y1="334.1" y2="334.1" stroke="#222"/>
<text x="288.8" y="337.0" class="tk" text-anchor="end">6</text>
<line x1="293.5" x2="296.5" y1="307.0" y2="307.0" stroke="#222"/>
<text x="288.8" y="309.9" class="tk" text-anchor="end">8</text>
<path d="M313.7 405.2 V331.4 M312.2 405.2 h3 M312.2 331.4 h3" stroke="#111" stroke-width="1.4" fill="none"/>
<circle cx="313.7" cy="368.0" r="2.7" fill="#000"/>
<path d="M368.7 386.3 V341.6 M367.2 386.3 h3 M367.2 341.6 h3" stroke="#111" stroke-width="1.4" fill="none"/>
<circle cx="368.7" cy="363.9" r="2.7" fill="#000"/>
<path d="M434.5 389.0 V348.3 M433.0 389.0 h3 M433.0 348.3 h3" stroke="#111" stroke-width="1.4" fill="none"/>
<circle cx="434.5" cy="368.7" r="2.7" fill="#000"/>
<path d="M313.700 312.500 V307.800 H434.500 V312.500" stroke="#555" fill="none" stroke-width="1.1"/>
<path d="M313.700 327.300 V322.600 H368.700 V327.300" stroke="#555" fill="none" stroke-width="1.1"/>
<path d="M368.700 336.300 V331.600 H434.500 V336.300" stroke="#555" fill="none" stroke-width="1.1"/>
<text x="374" y="305" class="ns" text-anchor="middle">n.s.</text>
<text x="341" y="320" class="ns" text-anchor="middle">n.s.</text>
<text x="401.500" y="329.500" class="ns" text-anchor="middle">n.s.</text>
<text transform="translate(265 361) rotate(-90)" class="ax" text-anchor="middle">Extension speed</text>
<text transform="translate(276 361) rotate(-90)" class="ax" text-anchor="middle">[µm/min]</text>
<line x1="313.7" x2="313.7" y1="415.4" y2="418.4" stroke="#222"/>
<line x1="368.7" x2="368.7" y1="415.4" y2="418.4" stroke="#222"/>
<line x1="434.5" x2="434.5" y1="415.4" y2="418.4" stroke="#222"/>
<text x="313.7" y="432" class="ct" text-anchor="middle">Single-</text><text x="313.7" y="443.500" class="ct" text-anchor="middle">needle</text>
<text x="368.7" y="432" class="ct" text-anchor="middle">Two-needle</text><text x="368.7" y="443.500" class="ct" text-anchor="middle">(left)</text>
<text x="434.5" y="432" class="ct" text-anchor="middle">Two-needle</text><text x="434.5" y="443.500" class="ct" text-anchor="middle">(right)</text>
<path d="M513.9 307.0 V419.0" fill="none" stroke="#7a7a7a" stroke-width="1.5"/>
<path d="M510.9 416.2 H683.4" fill="none" stroke="#222" stroke-width="1"/>
<line x1="510.9" x2="513.9" y1="416.0" y2="416.0" stroke="#222"/>
<text x="506.29999999999995" y="418.9" class="tk" text-anchor="end">0</text>
<line x1="510.9" x2="513.9" y1="388.8" y2="388.8" stroke="#222"/>
<text x="506.29999999999995" y="391.6" class="tk" text-anchor="end">20</text>
<line x1="510.9" x2="513.9" y1="361.5" y2="361.5" stroke="#222"/>
<text x="506.29999999999995" y="364.4" class="tk" text-anchor="end">40</text>
<line x1="510.9" x2="513.9" y1="334.2" y2="334.2" stroke="#222"/>
<text x="506.29999999999995" y="337.1" class="tk" text-anchor="end">60</text>
<line x1="510.9" x2="513.9" y1="307.0" y2="307.0" stroke="#222"/>
<text x="506.29999999999995" y="309.9" class="tk" text-anchor="end">80</text>
<line x1="513.9" x2="513.9" y1="416.0" y2="419.0" stroke="#222"/>
<line x1="570.4" x2="570.4" y1="416.0" y2="419.0" stroke="#222"/>
<line x1="626.9" x2="626.9" y1="416.0" y2="419.0" stroke="#222"/>
<line x1="683.4" x2="683.4" y1="416.0" y2="419.0" stroke="#222"/>
<rect x="532.9" y="394.5" width="18.6" height="21.5" fill="#000"/>
<text x="542.1" y="427.500" class="ct" text-anchor="middle">under 5 min</text>
<rect x="589.4" y="394.5" width="18.6" height="21.5" fill="#000"/>
<text x="598.6" y="427.500" class="ct" text-anchor="middle">5 to 10 min</text>
<rect x="645.9" y="320.9" width="18.6" height="95.1" fill="#000"/>
<text x="655.1" y="427.500" class="ct" text-anchor="middle">over 10 min</text>
<text transform="translate(489.7 361) rotate(-90)" class="ax" text-anchor="middle">Frequency [%]</text>
<text x="598.500" y="441.300" class="ax" text-anchor="middle">Backtracking start time</text>
<text x="598.500" y="453" class="ax" text-anchor="middle">difference [min]</text>
</g></svg></body></html>
